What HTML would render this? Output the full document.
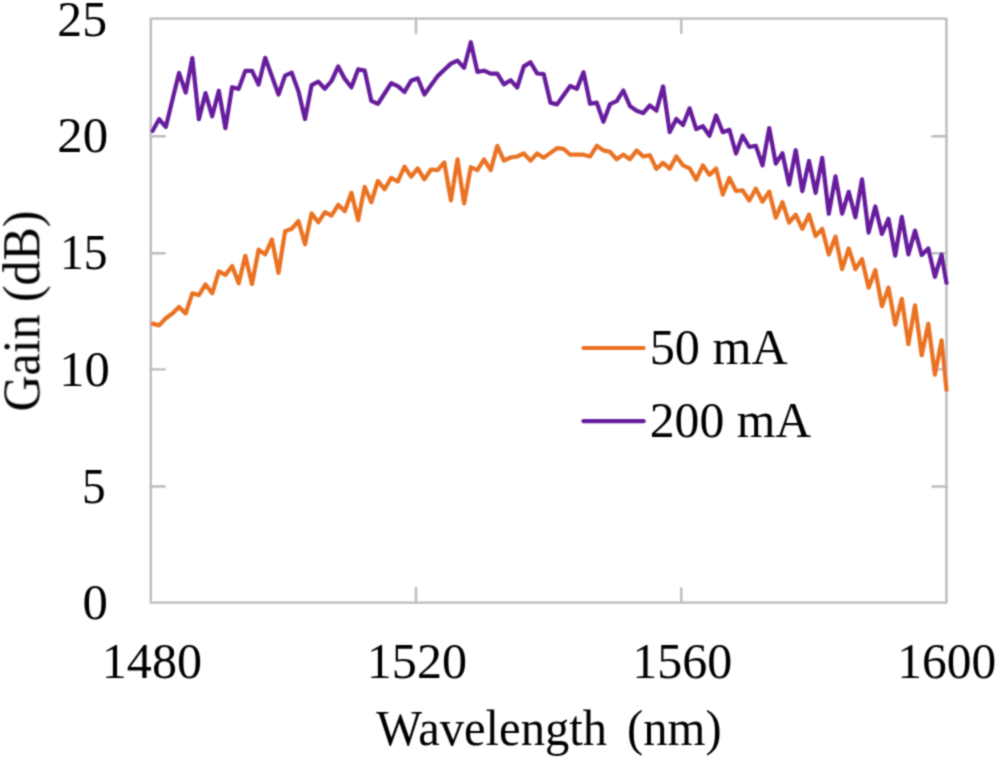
<!DOCTYPE html>
<html><head><meta charset="utf-8"><style>
html,body{margin:0;padding:0;background:#fff;}
svg{display:block;}
text{font-family:"Liberation Serif",serif;fill:#000;}
</style></head><body>
<svg width="996" height="758" viewBox="0 0 996 758">
<defs><filter id="soft" x="0" y="0" width="996" height="758" filterUnits="userSpaceOnUse"><feConvolveMatrix order="3" kernelMatrix="0.04387 0.12171 0.04387 0.12171 0.33767 0.12171 0.04387 0.12171 0.04387" edgeMode="duplicate"/></filter></defs>
<rect x="0" y="0" width="996" height="758" fill="#fff"/>
<g filter="url(#soft)">
<g stroke="#bcbcc0" stroke-width="2.4" fill="none" stroke-linejoin="round" stroke-linecap="round">
<rect x="150.8" y="18.6" width="795.7" height="584.0"/>
<line x1="150.8" y1="486.5" x2="164.8" y2="486.5"/><line x1="946.5" y1="486.5" x2="932.5" y2="486.5"/><line x1="150.8" y1="369.4" x2="164.8" y2="369.4"/><line x1="946.5" y1="369.4" x2="932.5" y2="369.4"/><line x1="150.8" y1="253.2" x2="164.8" y2="253.2"/><line x1="946.5" y1="253.2" x2="932.5" y2="253.2"/><line x1="150.8" y1="136.3" x2="164.8" y2="136.3"/><line x1="946.5" y1="136.3" x2="932.5" y2="136.3"/><line x1="416.0" y1="602.6" x2="416.0" y2="588.1"/><line x1="416.0" y1="18.6" x2="416.0" y2="33.1"/><line x1="681.3" y1="602.6" x2="681.3" y2="588.1"/><line x1="681.3" y1="18.6" x2="681.3" y2="33.1"/>
</g>
<defs><clipPath id="pa"><rect x="150.8" y="18.6" width="795.7" height="584.0"/></clipPath></defs>
<g fill="none" stroke-width="4.2" stroke-linejoin="round" stroke-linecap="round">
<polyline stroke="#EA7223" points="152.5,323.6 159.1,325.4 165.8,318.3 172.4,313.5 179.0,307.0 185.7,313.5 192.3,293.3 198.9,295.1 205.5,284.4 212.2,293.3 218.8,271.4 225.4,274.9 232.1,266.0 238.7,283.3 245.3,255.8 252.0,284.0 258.6,249.6 265.2,254.4 271.9,239.5 278.5,272.8 285.1,231.2 291.7,228.8 298.4,221.1 305.0,244.3 311.6,213.4 318.3,222.3 324.9,212.2 331.5,215.5 338.2,204.8 344.8,211.2 351.4,192.8 358.1,220.1 364.7,186.8 371.3,202.3 377.9,180.9 384.6,189.2 391.2,177.9 397.8,181.5 404.5,166.6 411.1,176.7 417.7,168.4 424.4,179.3 431.0,169.5 437.6,170.1 444.3,162.4 450.9,200.4 457.5,159.4 464.1,203.4 470.8,167.2 477.4,170.1 484.0,159.4 490.7,170.1 497.3,145.8 503.9,160.6 510.6,157.5 517.2,156.5 523.8,153.5 530.5,160.6 537.1,153.5 543.7,157.7 550.4,152.9 557.0,148.2 563.6,148.8 570.2,154.7 576.9,154.7 583.5,154.7 590.1,156.5 596.8,145.8 603.4,150.4 610.0,151.8 616.7,159.3 623.3,154.6 629.9,159.3 636.6,150.4 643.2,156.4 649.8,155.2 656.4,168.8 663.1,162.9 669.7,168.8 676.3,156.4 683.0,165.3 689.6,168.3 696.2,179.6 702.9,165.4 709.5,174.9 716.1,168.4 722.8,194.5 729.4,177.9 736.0,191.0 742.6,190.4 749.3,200.5 755.9,188.6 762.5,201.7 769.2,191.6 775.8,217.7 782.4,202.2 789.1,222.6 795.7,214.6 802.3,228.8 809.0,214.6 815.6,236.0 822.2,228.8 828.8,254.4 835.5,236.6 842.1,269.2 848.7,248.4 855.4,269.2 862.0,259.1 868.6,287.7 875.3,270.2 881.9,306.2 888.5,287.7 895.2,324.7 901.8,298.8 908.4,344.1 915.0,305.3 921.7,355.2 928.3,323.8 934.9,374.6 941.6,340.4 946.5,390.0"/>
<polyline stroke="#661E9C" points="152.5,131.0 159.1,119.2 165.8,127.0 172.4,100.0 179.0,72.9 185.7,92.5 192.3,58.1 198.9,119.2 205.5,93.1 212.2,116.3 218.8,90.7 225.4,128.1 232.1,87.2 238.7,88.9 245.3,70.9 252.0,70.9 258.6,84.5 265.2,57.8 271.9,76.2 278.5,94.6 285.1,75.6 291.7,72.7 298.4,91.1 305.0,119.0 311.6,85.1 318.3,81.6 324.9,88.7 331.5,81.0 338.2,66.5 344.8,78.9 351.4,87.3 358.1,69.4 364.7,70.6 371.3,100.9 377.9,103.9 384.6,93.5 391.2,83.1 397.8,86.1 404.5,92.0 411.1,80.7 417.7,78.3 424.4,94.5 431.0,85.3 437.6,76.1 444.3,69.8 450.9,63.6 457.5,60.6 464.1,67.8 470.8,42.2 477.4,71.9 484.0,70.7 490.7,73.7 497.3,73.7 503.9,84.4 510.6,80.2 517.2,87.5 523.8,66.4 530.5,62.2 537.1,73.5 543.7,74.1 550.4,102.6 557.0,104.4 563.6,95.2 570.2,86.0 576.9,88.9 583.5,72.3 590.1,103.8 596.8,102.6 603.4,121.8 610.0,104.2 616.7,101.2 623.3,90.5 629.9,106.0 636.6,110.7 643.2,113.1 649.8,105.4 656.4,110.7 663.1,86.4 669.7,132.1 676.3,119.0 683.0,125.0 689.6,108.3 696.2,129.2 702.9,126.2 709.5,135.7 716.1,115.5 722.8,132.2 729.4,129.8 736.0,153.5 742.6,135.7 749.3,147.0 755.9,145.8 762.5,165.4 769.2,128.0 775.8,163.6 782.4,153.3 789.1,184.6 795.7,150.2 802.3,191.2 809.0,160.9 815.6,192.9 822.2,157.9 828.8,213.7 835.5,176.3 842.1,213.7 848.7,191.8 855.4,217.3 862.0,179.3 868.6,232.6 875.3,206.5 881.9,233.9 888.5,218.8 895.2,255.7 901.8,216.8 908.4,254.4 915.0,230.6 921.7,255.0 928.3,248.4 934.9,276.8 941.6,254.4 946.5,283.0"/>
</g>
<g font-size="52.5">
<text transform="translate(82.6,619.0) scale(0.986,1)" font-size="51.5">0</text><text transform="translate(82.0,502.6) scale(0.919,1)" font-size="51.5">5</text><text transform="translate(59.2,385.5) scale(0.982,1)" font-size="51.5">10</text><text transform="translate(60.1,268.8) scale(0.923,1)" font-size="51.5">15</text><text transform="translate(57.3,151.8) scale(0.988,1)" font-size="51.5">20</text><text transform="translate(57.3,35.8) scale(0.966,1)" font-size="51.5">25</text>
<text transform="translate(101.8,678.2) scale(0.973,1)" font-size="51.5">1480</text><text transform="translate(366.8,678.2) scale(0.973,1)" font-size="51.5">1520</text><text transform="translate(632.3,678.2) scale(0.972,1)" font-size="51.5">1560</text><text transform="translate(897.3,678.2) scale(0.960,1)" font-size="51.5">1600</text>
<text transform="translate(376.2,745.0) scale(0.944,1)" font-size="51.5">Wavelength</text><text transform="translate(627.0,745.0) scale(0.946,1)" font-size="51.5">(nm)</text>
<text transform="translate(39.3,311.0) rotate(-90) scale(0.95,1)" text-anchor="middle">Gain (dB)</text>
</g>
<g stroke-width="4.2" stroke-linecap="round">
<line x1="583.5" y1="348" x2="643.6" y2="348" stroke="#EA7223"/>
<line x1="583.5" y1="421.2" x2="643.6" y2="421.2" stroke="#661E9C"/>
</g>
<g font-size="52.5">
<text transform="translate(649.7,364.0) scale(1.004,1)" font-size="50.0">50 mA</text>
<text transform="translate(649.7,437.2) scale(0.994,1)" font-size="50.0">200 mA</text>
</g>
</g>
</svg>
</body></html>
